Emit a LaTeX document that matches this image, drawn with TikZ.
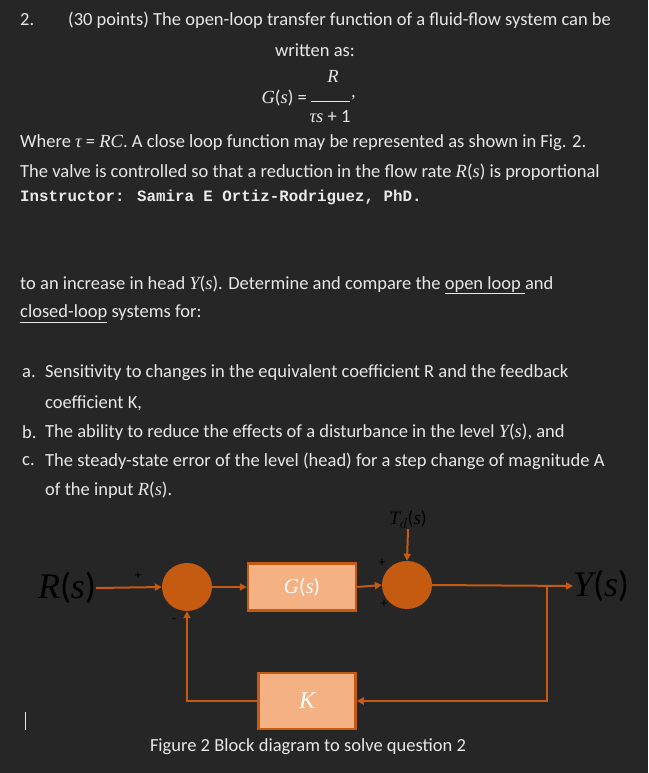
\documentclass[tikz,border=0pt]{standalone}
\usepackage{fontspec}
\setmainfont{Carlito}
\newfontfamily\mth{Liberation Serif}
\newfontfamily\mono{Liberation Mono}
\usetikzlibrary{arrows.meta,shapes.geometric,backgrounds}
\definecolor{bgdark}{HTML}{262626}
\definecolor{txlight}{HTML}{E8E8E8}
\definecolor{org}{HTML}{C55A11}
\definecolor{lor}{HTML}{F4B183}
\newcommand{\mi}[1]{{\mth\itshape #1}}
\begin{document}
\begin{tikzpicture}[x=1pt,y=-1pt,
  show background rectangle,
  background rectangle/.style={fill=bgdark,draw=none},
  inner frame sep=0pt,
  txt/.style={text=txlight,font=\fontsize{18.5}{20}\selectfont,inner sep=0,anchor=west},
  lnk/.style={draw=org,line width=2pt},
  arr/.style={lnk,-{Triangle[length=7pt,width=7pt]}},
  blk/.style={draw=org,line width=2.5pt,fill=lor,minimum width=108pt,inner sep=0},
  sum/.style={ellipse,fill=org,minimum width=50pt,minimum height=48pt,inner sep=0},
  sgn/.style={text=black,font=\fontsize{13}{13}\selectfont,inner sep=0}]
\useasboundingbox (0,0) rectangle (648,773);
\node[txt] (n2) at (20,20) {2.};
\node[txt] (l1) at (68,20) {(30 points) The open-loop transfer function of a fluid-flow system can be};
\node[txt,anchor=center] (l2) at (315,50) {written as:};
\node[txt,anchor=center] (fR) at (333,76) {\mi{R}};
\node[txt,anchor=east] (fG) at (307,98) {\mi{G}(\mi{s}) =};
\draw[txlight,line width=0.8pt] (311,101) -- (350,101);
\node[txt] (fc) at (351,98) {,};
\node[txt,anchor=center] (fd) at (330,117) {\mi{τs} + 1};
\node[txt] (l3) at (20,143) {Where \mi{τ} = \mi{RC}. A close loop function may be represented as shown in Fig. 2.};
\node[txt] (l4) at (20,172) {The valve is controlled so that a reduction in the flow rate \mi{R}(\mi{s}) is proportional};
\node[txt,font=\mono\bfseries\fontsize{15.8}{17}\selectfont,text=txlight!90] (l5) at (20,197) {Instructor: Samira E Ortiz-Rodriguez, PhD.};
\node[txt] (l6) at (20,285) {to an increase in head \mi{Y}(\mi{s}). Determine and compare the \underline{open loop }and};
\node[txt] (l7) at (20,314) {\underline{closed-loop} systems for:};
\node[txt] (a) at (22,373) {a.};
\node[txt] (at) at (45,373) {Sensitivity to changes in the equivalent coefficient R and the feedback};
\node[txt] (at2) at (45,403) {coefficient K,};
\node[txt] (b) at (22,432) {b.};
\node[txt] (bt) at (45,432) {The ability to reduce the effects of a disturbance in the level \mi{Y}(\mi{s}), and};
\node[txt] (c) at (22,461) {c.};
\node[txt] (ct) at (45,461) {The steady-state error of the level (head) for a step change of magnitude A};
\node[txt] (ct2) at (45,490) {of the input \mi{R}(\mi{s}).};
% diagram
\node[sum] (s1) at (187,587) {};
\node[sum] (s2) at (407,585) {};
\node[blk,minimum height=47pt] (G) at (302,587) {\textcolor{white}{\fontsize{21}{21}\selectfont\mi{G}(\mi{s})}};
\node[blk,minimum width=97pt,minimum height=56pt] (K) at (307,701) {\textcolor{white}{\fontsize{24}{24}\selectfont\mi{K}}};
\node[inner sep=0,font=\fontsize{36}{36}\selectfont,text=black] (R) at (67,588) {\mi{R}(\mi{s})};
\node[inner sep=0,font=\fontsize{36}{36}\selectfont,text=black,anchor=west] (Y) at (573,586) {\mi{Y}(\mi{s})};
\node[inner sep=0,font=\fontsize{19}{19}\selectfont,text=black] (T) at (408,520) {\mi{T}$_d$(\mi{s})};
\coordinate (br) at (547,585);
\coordinate (kb) at (547,701);
\coordinate (kl) at (187,701);
\draw[arr] (R.east) -- (s1.west);
\draw[arr] (s1.east) -- (G.west);
\draw[arr] (G.east) -- (s2.west);
\draw[arr] (s2.east) -- (Y.west);
\draw[arr] (T.south) -- (s2.north);
\draw[arr] (br) -- (kb) -- (K.east);
\draw[arr] (K.west) -- (kl) -- (s1.south);
\node[sgn] (p1) at (138,576) {+};
\node[sgn] (m1) at (174,620) {-};
\node[sgn] (p2) at (382,563) {+};
\node[sgn] (p3) at (384,604) {+};
\draw[txlight,line width=0.8pt] (25,712) -- (25,730);
\node[txt,anchor=center] (cap) at (308,747) {Figure 2 Block diagram to solve question 2};
\end{tikzpicture}
\end{document}
